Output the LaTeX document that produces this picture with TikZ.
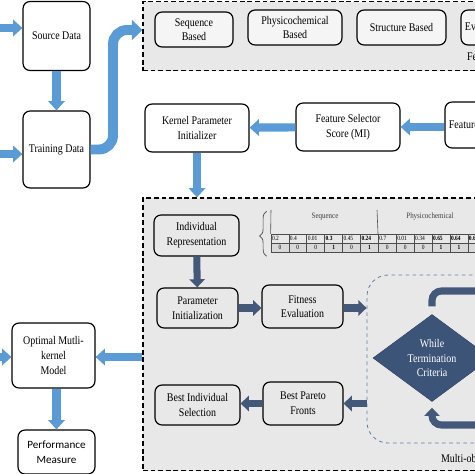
\documentclass[tikz,border=0pt]{standalone}
\usepackage{fontspec}
\setmainfont{Liberation Serif}[FakeStretch=0.85]
\newfontfamily\calfont{Carlito}
\usetikzlibrary{arrows.meta,shapes.geometric,positioning,calc,decorations.pathreplacing}
\definecolor{pipeblue}{HTML}{5B9BD5}
\definecolor{navy}{HTML}{44587A}
\definecolor{panelgray}{HTML}{E8E8E8}
\definecolor{loopblue}{HTML}{5F7FAD}
\definecolor{diamondblue}{HTML}{3D5479}
\begin{document}
\begin{tikzpicture}[x=0.03cm,y=-0.03cm,
    blk/.style={draw,line width=1pt,rounded corners=6pt,align=center,inner sep=1pt,
                font=\fontsize{10}{12.5}\selectfont},
    sz/.style 2 args={minimum width=#1*0.03cm,minimum height=#2*0.03cm},
    panel/.style={draw,line width=1pt,dash pattern=on 4pt off 2.5pt,fill=panelgray,inner sep=0pt},
    bluearr/.style={draw=pipeblue,line width=7pt,-{Triangle[width=14pt,length=8pt]}},
    navyarr/.style={draw=navy,line width=6pt,-{Triangle[width=13pt,length=7pt]}},
    cella/.style={draw=black!70,line width=0.4pt,fill=gray!18,sz={17.9}{9},inner sep=1pt,
                  text width=13.5pt,align=left,font=\fontsize{5.5}{6}\selectfont},
    cellb/.style={cella,fill=gray!30,align=center}
                   ]
    \useasboundingbox (0,0) rectangle (474,474);

    % panels
    \node[panel,sz={477}{69}](feat) at (381.5,36){};
    \node[panel,sz={477}{272.5}](fit) at (381.5,334.25){};
    \node[draw=loopblue,line width=0.7pt,dashed,rounded corners=18pt,sz={253}{168}](loop) at (493.5,359){};

    % left column
    \node[blk,fill=white,sz={67}{69}](src) at (56.5,36){Source Data};
    \node[blk,fill=white,sz={67}{77}](train) at (56.5,149.5){Training Data};
    \node[blk,fill=white,sz={83}{65}](opt) at (53.5,355.5){Optimal Mutli-\\kernel\\Model};
    \node[blk,fill=white,sz={77}{44},font=\calfont\fontsize{9.5}{12.5}\selectfont](perf) at (56.5,452){Performance\\Measure};

    % feature extraction
    \node[blk,fill=white!55!panelgray,sz={78}{35}](fseq) at (194,29.5){Sequence\\Based};
    \node[blk,fill=white!55!panelgray,sz={94}{35}](fphy) at (295,27.5){Physicochemical\\Based};
    \node[blk,fill=white!55!panelgray,sz={89}{35}](fstr) at (401.5,27.5){Structure Based};
    \node[blk,fill=white!55!panelgray,sz={110}{35}](fevo) at (516,27.5){Evolutionary Information};
    \node[anchor=west,font=\fontsize{10}{12}\selectfont](featlbl) at (463,57){Feature Extraction};

    % kernel row
    \node[blk,fill=white,sz={104}{48}](kern) at (197,128){Kernel Parameter\\Initializer};
    \node[blk,fill=white,sz={104}{48}](fsel) at (348,127){Feature Selector\\Score (MI)};
    \node[blk,fill=white,sz={70}{46}](fvec) at (480,125){Feature Vectors};

    % multi-kernel optimization
    \node[blk,sz={85}{41}](ind) at (196.5,235.5){Individual\\Representation};
    \node[blk,sz={81}{40}](par) at (197.5,308){Parameter\\Initialization};
    \node[blk,sz={81}{43}](fitn) at (302.5,306.5){Fitness\\Evaluation};
    \node[blk,sz={80}{43}](pareto) at (303,403.5){Best Pareto\\Fronts};
    \node[blk,sz={85}{40}](best) at (197.5,405){Best Individual\\Selection};
    \node[diamond,fill=diamondblue,draw=diamondblue!80!black,text=white,align=center,inner sep=0pt,
          sz={118}{87},font=\fontsize{10}{12}\selectfont](crit) at (432,358){While\\Termination\\Criteria};
    \node[anchor=west,font=\fontsize{10}{12}\selectfont](mobj) at (437,460){Multi-objective Optimization};

    % chromosome table
    \foreach \v [count=\i from 0] in {0.2,0.4,0.01,\textbf{0.3},0.45,\textbf{0.24},0.7,0.01,0.34,\textbf{0.65},\textbf{0.64},\textbf{0.6}}
        \node[cella](a\i) at ({279.95+17.9*\i},238.5){\v};
    \foreach \v [count=\i from 0] in {0,0,0,\textbf{1},0,\textbf{1},0,0,0,\textbf{1},\textbf{1},\textbf{1}}
        \node[cellb](b\i) at ({279.95+17.9*\i},247.5){\v};
    \coordinate (h0) at (271,210);
    \coordinate (h1) at (377,210);
    \draw[line width=0.5pt,black!70] (h0) -- (a0.north west) (h1) -- (a6.north west);
    \node[font=\fontsize{7}{8}\selectfont,text=black!75](hseq) at (325,217){Sequence};
    \node[font=\fontsize{7}{8}\selectfont,text=black!75](hphy) at (430,217){Physicochemical};
    \draw[line width=0.6pt,black!70,decorate,decoration={brace,amplitude=6pt,aspect=0.45}]
        (b0.south west) ++(-4,4) coordinate (br0) -- ++(0,-45);

    % blue connectors
    \coordinate (in1) at (0,28);
    \coordinate (in2) at (0,154);
    \coordinate (in3) at (0,357);
    \draw[bluearr] (in1) -- (src.west |- in1);
    \draw[bluearr] (in2) -- (train.west |- in2);
    \draw[bluearr] (in3) -- (opt.west |- in3);
    \draw[bluearr] (src) -- (train);
    \draw[bluearr,line width=8.5pt,-{Triangle[width=17pt,length=9pt]},rounded corners=12pt]
        (train.east) -- (113,149.5) -- (113,30) -- ($(feat.west)+(0,-6)$);
    \draw[bluearr] (fsel) -- (kern);
    \draw[bluearr] (fvec.west |- fsel) -- (fsel);
    \draw[bluearr] (kern) -- (fit.north -| kern);
    \draw[bluearr] (fit.west |- in3) -- (opt.east |- in3);
    \draw[bluearr] (opt.south -| perf) -- (perf);

    % navy connectors
    \draw[navyarr] (ind) -- (par);
    \draw[navyarr] (par) -- (fitn.west |- par);
    \draw[navyarr] (fitn.east |- par) -- (loop.west |- par);
    \draw[navyarr] (loop.west |- pareto) -- (pareto);
    \draw[navyarr] (pareto) -- (best.east |- pareto);
    \draw[draw=navy,line width=6pt,rounded corners=8pt] ($(crit.north)+(0,-8)$) -- (432,291) -- (520,291);
    \draw[navyarr,rounded corners=8pt] (520,425) -- (432,425) -- ($(crit.south)+(0,6)$);

\end{tikzpicture}
\end{document}
